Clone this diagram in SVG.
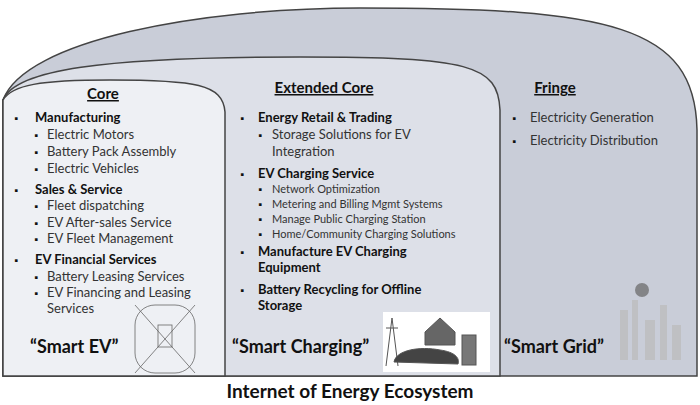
<svg xmlns="http://www.w3.org/2000/svg" width="700" height="405" viewBox="0 0 700 405">
<style>
.z{stroke:#444;stroke-width:1.5}
text{font-family:Lato,"Open Sans","Liberation Sans",sans-serif;fill:#111}
.h{font-weight:bold;font-size:15px;text-decoration:underline;text-anchor:middle}
.b{font-weight:bold;font-size:13px}
.n{font-size:13px;fill:#333}
.s{font-size:11px;fill:#333}
.q{font-weight:bold;font-size:18px}
.bl{font-size:10px}
</style>
<rect width="700" height="405" fill="#fff"/>
<g id="fringe"><path class="z" fill="#c9cdd8" d="M3,376 L3,100 C25,40 200,8 360,8 C610,8 695,25 697,130 L697,376 Z"/>
<text class="h" x="555" y="93">Fringe</text>
<text class="bl" x="512" y="122">▪</text><text class="n" x="530" y="122">Electricity Generation</text>
<text class="bl" x="512" y="145">▪</text><text class="n" x="530" y="145">Electricity Distribution</text>
<text class="q" x="504" y="353">“Smart Grid”</text>
<g fill="#bbb" opacity="0.7"><rect x="620" y="310" width="8" height="50"/><rect x="632" y="300" width="6" height="60"/><rect x="645" y="320" width="10" height="40"/><rect x="660" y="305" width="7" height="55"/><rect x="672" y="325" width="9" height="35"/><circle cx="642" cy="290" r="7" fill="#666"/></g>
</g>
<g id="extended"><path class="z" fill="#dde0e8" d="M3,376 L3,100 C15,70 100,57 300,57 C470,57 498,65 500,110 L500,376 Z"/>
<text class="h" x="324" y="93">Extended Core</text>
<text class="bl" x="240" y="122">▪</text><text class="b" x="258" y="122">Energy Retail &amp; Trading</text>
<text class="bl" x="258" y="139">▪</text><text class="n" x="272" y="139">Storage Solutions for EV</text>
<text class="n" x="272" y="156">Integration</text>
<text class="bl" x="240" y="178">▪</text><text class="b" x="258" y="178">EV Charging Service</text>
<text class="bl" x="258" y="193">▪</text><text class="s" x="272" y="193">Network Optimization</text>
<text class="bl" x="258" y="208">▪</text><text class="s" x="272" y="208">Metering and Billing Mgmt Systems</text>
<text class="bl" x="258" y="223">▪</text><text class="s" x="272" y="223">Manage Public Charging Station</text>
<text class="bl" x="258" y="238">▪</text><text class="s" x="272" y="238">Home/Community Charging Solutions</text>
<text class="bl" x="240" y="256">▪</text><text class="b" x="258" y="256">Manufacture EV Charging</text>
<text class="b" x="258" y="272">Equipment</text>
<text class="bl" x="240" y="294">▪</text><text class="b" x="258" y="294">Battery Recycling for Offline</text>
<text class="b" x="258" y="310">Storage</text>
<text class="q" x="232" y="353">“Smart Charging”</text>
<rect x="383" y="312" width="107" height="60" fill="#fff"/>
<g stroke="#555" fill="none"><path d="M392,318 L386,366 M392,318 L398,366 M386,328 L398,328"/><path d="M425,332 L440,318 L455,332 L455,345 L425,345 Z" fill="#666"/><path d="M394,362 C396,350 420,346 440,350 C455,352 460,358 458,364 Z" fill="#444"/><rect x="462" y="335" width="14" height="30" fill="#777"/></g>
</g>
<g id="core"><path class="z" fill="#eef0f4" d="M3,376 L3,100 C12,85 40,80 110,80 C195,80 223,84 225,112 L225,376 Z"/>
<text class="h" x="103" y="99">Core</text>
<text class="bl" x="14" y="122">▪</text><text class="b" x="35" y="122">Manufacturing</text>
<text class="bl" x="34" y="139">▪</text><text class="n" x="47" y="139">Electric Motors</text>
<text class="bl" x="34" y="156">▪</text><text class="n" x="47" y="156">Battery Pack Assembly</text>
<text class="bl" x="34" y="173">▪</text><text class="n" x="47" y="173">Electric Vehicles</text>
<text class="bl" x="14" y="194">▪</text><text class="b" x="35" y="194">Sales &amp; Service</text>
<text class="bl" x="34" y="210">▪</text><text class="n" x="47" y="210">Fleet dispatching</text>
<text class="bl" x="34" y="227">▪</text><text class="n" x="47" y="227">EV After-sales Service</text>
<text class="bl" x="34" y="243">▪</text><text class="n" x="47" y="243">EV Fleet Management</text>
<text class="bl" x="14" y="264">▪</text><text class="b" x="35" y="264">EV Financial Services</text>
<text class="bl" x="34" y="281">▪</text><text class="n" x="47" y="281">Battery Leasing Services</text>
<text class="bl" x="34" y="297">▪</text><text class="n" x="47" y="297">EV Financing and Leasing</text>
<text class="n" x="47" y="313">Services</text>
<text class="q" x="30" y="353">“Smart EV”</text>
<g stroke="#666" fill="none" stroke-width="0.8"><rect x="135" y="305" width="60" height="68" rx="20"/><path d="M135,305 L195,373 M195,305 L135,373"/><rect x="158" y="325" width="14" height="22"/></g>
</g>
<g id="connectors"></g>
<text x="350" y="398" text-anchor="middle" style="font-weight:bold;font-size:19px">Internet of Energy Ecosystem</text>
</svg>
